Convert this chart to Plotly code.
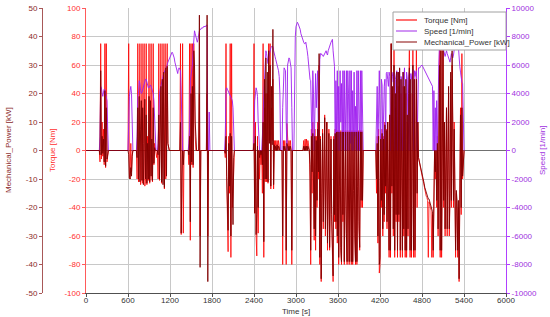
import plotly.graph_objects as go

# ---------------- data (10 s sampling inside each driving segment) ----------------
seg_start_s = [0, 190, 600, 720, 1170, 1460, 1980, 2390, 2800, 2970, 3210, 4140]

torque_nm = [
    [0],
    [0, -8, 75, -6, 20, -4, 15, -10, 75, -12, 75, -8, 0, 0],
    [0, 75, -19, -20, 5, -15, -3, 0],
    [0, -20, 75, -22, 10, 75, -24, -20, 75, -23, 5, 75, -25, -22, 75, -24, 10, -21, 75, -23,
     -15, 75, -20, -22, 75, -10, 5, 0, 0, -5, 0, -20, 75, -21, 20, 75, -23, -10, 75, -25,
     -27, 75, -20, 30, 75],
    [5, 0, 0, 0, 0, 0, 0, 0, 0, 0, 0, 0, 0, 0, 0, 0, 0, 0, 75, -59, -30, 75, -58, 0],
    [0, -10, 75, -63, 75, -10, 75, -12, 75, 30, 10, 0, 0, 0, 0, 0, 40, -60, 0, 0,
     0, 0, 0, 0, 0, 0, 0, 40, -60, 0, 0, 0],
    [0, -5, 75, -18, -56, -71, 10, -30, 75, -75, 75, -40, -30, 0, 0],
    [0, 75, -44, 20, -60, -74, 10, -58, 0, -20, 0, -10, 0, -30, 75, -75, 30, -22, 40, -22,
     40, -23, 75, 7, 75, -27, 30, 7, 50, -27, 7, 0, 7, 0, 7, 0, 7, 0, 0, 0],
    [0, -80, 7, 0, 7, 0, -80, 19, 7, 0, 7, 0, 7, 0, -80, 0],
    [0, 0, 0, 0, 0, 0, 0, 0, 0, 0, 0, 0, 0, 0, 7, 0, 8, 0, 8, 0, 7, 0, 0, -20],
    [-80, 15, -30, 20, -50, -63, 15, -70, 10, -40,
     20, -20, 60, -80, 10, -92, -25, 15, -55, -20,
     25, -60, -30, 20, -70, -35, 15, -70, -40, 10,
     -50, -85, -92, 10, -50, 15, -55, 14, -65, 14,
     -80, -30, 14, -70, -80, 14, -50, 14, -80, -30,
     14, -60, -80, 14, -65, -80, 14, -40, -80, 14,
     -80, -30, 14, -60, -80, 14, -80, -30, 14, -55,
     -70, 14, -40, 14, -40, 0],
    [0, -30, 10, -65, 15, -86, -80, 10, -40, 15,
     -60, 10, -50, 20, -30, 15, -55, 20, -40, -75,
     25, -75, 75, -30, 40, -60, 75, -75, 30, -50,
     50, -75, 45, -50, 50, -75, 40, -40, -75, 45,
     -60, 35, -75, 40, -75, 20, -60, 30, 75, -75,
     40, -75, 30, 75, -75, 40, -75, 30, 75, -40,
     20, -5, -8, -10, -12, -15, -18, -20, -22, -25,
     -28, -30, -32, -33, -35, -75, -36, -38, -40, -42,
     -75, -45, -75, -30, 0, -20, 0, -40, 10, -60,
     30, 75, -75, 75, -75, 50, 75, -40, 20, -60,
     -20, 30, -60, -25, 40, -60, -30, 50, -40, 60,
     -30, -40, 20, -35, -75, -30, -40, -75, -40, -92,
     -20, 30, -45, 68, -20, 0, 0],
]

speed_rpm = [
    [0],
    [0, 1000, 4500, 4400, 4000, 3800, 4100, 4300, 4200, 4000, 3800, 3500, 1500, 0],
    [0, 3000, 3800, 4200, 4500, 4000, 2500, 0],
    [0, 1000, 3800, 4000, 4900, 4700, 4200, 4000, 4100, 4300, 4500, 4600, 4800, 5000, 5000,
     4800, 4500, 4400, 4400, 4500, 4600, 4500, 4300, 4200, 4000, 3500, 2000, 0, 0, 0,
     0, 500, 3800, 4000, 4300, 4600, 4800, 5000, 5200, 5400, 5500, 5700, 5800, 5900, 6000],
    [6200, 6300, 6400, 6500, 6600, 6800, 6900, 6800, 6700, 6500, 6200, 6000, 5700, 5500,
     5400, 5700, 5800, 5700, 5600, 4000, 1600, 0, 0, 0],
    [0, 500, 1600, 4900, 5200, 5500, 6000, 7000, 7800, 8400, 8200, 7900, 7800, 7600, 7800,
     8200, 8400, 8500, 8500, 8600, 8600, 8600, 8700, 8700, 8700, 8700, 8800, 8800, 0, 0,
     2700, 0],
    [0, 1000, 4300, 4400, 4300, 4200, 4000, 3900, 3800, 3800, 3600, 3500, 3000, 2000, 0],
    [0, 1000, 3500, 4000, 4400, 4200, 3800, 2000, 0, 0, 0, 0, 0, 1000, 3100, 3800, 5000,
     6200, 7000, 6800, 6400, 6100, 6500, 6800, 7000, 7200, 7300, 7300, 7300, 7000, 6600,
     6600, 6400, 6200, 6000, 5900, 5600, 5200, 4000, 0],
    [0, 3000, 5600, 5800, 5700, 5600, 2000, 0, 6000, 6500, 6500, 6400, 6200, 5800, 3000, 0],
    [0, 6000, 8000, 8700, 8900, 9000, 8900, 8800, 8700, 8500, 8200, 8000, 7800, 7700, 7600,
     7500, 7500, 7600, 7400, 7000, 6600, 6000, 5600, 5000],
    [4900, 2000, 0, 5600, 4000, 0, 4500, 5400, 3000, 5600,
     5600, 1000, 6100, 6400, 6800, 6800, 6700, 6700, 6600, 6700,
     6700, 6900, 7000, 6800, 6700, 7000, 7200, 7400, 7500, 7600,
     7700, 7800, 7000, 6400, 5900, 0, 4900, 1000, 5600, 0,
     4500, 0, 5600, 2000, 4700, 0, 5600, 1000, 5600, 0,
     4200, 5600, 0, 5600, 4000, 0, 5600, 500, 5600, 0,
     4200, 0, 5500, 1000, 3100, 0, 5600, 0, 5600, 3500,
     0, 5600, 0, 5600, 1000, 0],
    [0, 4200, 4500, 0, 5000, 5600, 2000, 0, 5000, 4600,
     0, 4200, 4500, 5000, 0, 5400, 5500, 5000, 4500, 5500,
     5200, 0, 5000, 5500, 5200, 4800, 5500, 0, 5000, 5200,
     5600, 0, 5500, 5000, 5700, 0, 5200, 5000, 0, 5500,
     5000, 5800, 0, 5200, 5500, 5000, 0, 5200, 5500, 0,
     5400, 5000, 5500, 5700, 0, 5600, 5200, 5500, 5600, 0,
     5700, 5800, 5800, 5800, 5900, 6000, 6000, 5900, 5800, 5700,
     5600, 5500, 5400, 5300, 5200, 5100, 5000, 4900, 4800, 4700,
     4600, 4500, 0, 4200, 0, 3000, 0, 3500, 0, 4500,
     6000, 7500, 8000, 8200, 8000, 7800, 7200, 7000, 6800, 6600,
     6800, 7000, 6800, 6600, 6400, 6200, 6200, 6500, 6800, 6600,
     6500, 6700, 7000, 7200, 7800, 8200, 8400, 8000, 7000, 6200,
     5900, 5500, 5000, 4800, 4700, 0, 0],
]

power_kw = [
    [0],
    [0, -1.5, 28, -1.5, 5, -1, 4, -4, 21, -5.5, 15, -3, 0, 0],
    [0, -1.5, -9.5, -10, -6, -9, -2, 0],
    [0, -2.5, 15, -10, 19, -11, 7.5, 17.5, -10.5, 15, -12, 6, 18, -10, 12.5, -11.5, 2.5,
     -10, 19, -11, 17.5, -9, 4, -10.5, 15, -4.5, 1, 0, 0, 0, 0, -1.5, 12.5, -10, 15,
     22.5, -11, 25, -12, 27.5, -13, 25, 29, -9, 29.5],
    [2.5, 0, 0, 0, 0, 0, 0, 0, 0, 0, 0, 0, 0, 0, 0, 0, 0, 0, 10, -29, -10, 0, -5, 0],
    [0, -1.5, 5, -25, 20, -4, 22.5, -5, 35, 30, 10, 0, 0, 0, 0, 0, 47.5, -41, 0, 0,
     0, 0, 0, 0, 0, 0, 0, 47.5, -46, 0, 0, 0],
    [0, -1, 5, -9, -22.5, -28, 2.5, -12.5, 6, -30, 5, -17.5, -26, -2.5, 0],
    [0, 2.5, -22, 5, -29.5, -22.5, 1.5, -20, 0, -2.5, 0, -1.5, 0, -5, 10, -32, 25, -10,
     32.5, -10, 27.5, -11, 35, 2.5, 30, -12.5, 22.5, 2, 42.5, -12, 2, 0, 1.5, 0, 2, 0,
     1.5, 0, 0, 0],
    [0, -30, 1.5, 0, 1.5, 0, -35, 2.5, 1.5, 0, 1.5, 0, 1.5, 0, -35, 0],
    [0, 0, 0, 0, 0, 0, 0, 0, 0, 0, 0, 0, 0, 0, 1.5, 0, 1.5, 0, 1.5, 0, 1.5, 0, 0, -5],
    [-35, 5, -7.5, 6, -22.5, -27.5, 5, -30, 3.5, -17.5,
     7.5, -7.5, 34, -37.5, 4, -45, -15, 6, -25, -12.5,
     11.5, -27.5, -14, 10, -32.5, -15, 6, -34, -17.5, 4,
     -22.5, -40, -44, 4, -22.5, 6, -25, 6.5, -30, 6.5,
     -37.5, -12.5, 6.5, -34, -39, 6.5, -22.5, 6.5, -39, -14,
     6.5, -29, -39, 6.5, -30, -39, 6.5, -17.5, -39, 6.5,
     -39, -14, 6.5, -29, -39, 6.5, -39, -12.5, 6.5, -25,
     -34, 6.5, -17.5, 6.5, -17.5, 0],
    [0, -10, 2.5, -30, 5, -40, -37.5, 4, -17.5, 6,
     -27.5, 4, -22.5, 9, -12.5, 7, -25, 10, -17.5, -35,
     12.5, -35, 37.5, -12.5, 22.5, -27.5, 30, -35, 20, -22.5,
     27.5, -35, 27.5, -22.5, 29, -35, 25, -17.5, -35, 27.5,
     -27.5, 22.5, -35, 25, -35, 12.5, -27.5, 20, 29, -35,
     25, -35, 20, 30, -35, 25, -35, 15, 25, -15,
     10, -2.5, -3.5, -4.5, -5.5, -6.5, -8, -9, -10, -11.5,
     -13, -14, -15, -15.5, -16.5, -17, -17, -18, -19, -20,
     -21, -21.5, -35, -14, 0, -7.5, 0, -17.5, 2.5, -27.5,
     15, 30, -35, 35, -35, 32.5, 35, -17.5, 10, -27.5,
     -9, 15, -27.5, -11, 22.5, -27.5, -14, 27.5, -17.5, 35,
     -14, -17.5, 7.5, -16, -35, -14, -17.5, -35, -17.5, -45,
     -9, 12.5, -20, 15, -9, 0, 0],
]

sample_step_s = 10

x_ticks = [0, 600, 1200, 1800, 2400, 3000, 3600, 4200, 4800, 5400, 6000]
torque_ticks = [-100, -80, -60, -40, -20, 0, 20, 40, 60, 80, 100]
speed_ticks = [-10000, -8000, -6000, -4000, -2000, 0, 2000, 4000, 6000, 8000, 10000]
power_ticks = [-50, -40, -30, -20, -10, 0, 10, 20, 30, 40, 50]

series_names = ["Torque [Nm]", "Speed [1/min]", "Mechanical_Power [kW]"]
series_colors = ["rgba(255,0,0,0.8)", "rgba(160,32,240,0.9)", "rgba(128,0,0,0.9)"]

# ---------------- flatten segments ----------------
time_s, tq, sp, pw = [], [], [], []
for start, a, b, c in zip(seg_start_s, torque_nm, speed_rpm, power_kw):
    assert len(a) == len(b) == len(c), (start, len(a), len(b), len(c))
    for i in range(len(a)):
        time_s.append(start + i * sample_step_s)
        tq.append(a[i]); sp.append(b[i]); pw.append(c[i])

# ---------------- geometry helpers (pixel -> paper) ----------------
W, H = 550, 317
ML, MR, MT, MB = 0, 44, 8, 24
PW = W - ML - MR           # paper width 506
PH = H - MT - MB           # paper height 285
def px(x): return (x - ML) / PW
def py(y): return (H - MB - y) / PH

FONT = "Liberation Sans"

fig = go.Figure()
fig.add_trace(go.Scatter(x=time_s, y=tq, mode="lines", name=series_names[0],
                         line=dict(color=series_colors[0], width=1), yaxis="y"))
fig.add_trace(go.Scatter(x=time_s, y=sp, mode="lines", name=series_names[1],
                         line=dict(color=series_colors[1], width=1), yaxis="y2"))
fig.add_trace(go.Scatter(x=time_s, y=pw, mode="lines", name=series_names[2],
                         line=dict(color=series_colors[2], width=1), yaxis="y3"))

def lab(v):
    return str(v)

fig.update_layout(
    width=W, height=H,
    margin=dict(l=ML, r=MR, t=MT, b=MB, autoexpand=False),
    paper_bgcolor="white", plot_bgcolor="white",
    showlegend=False,
    font=dict(family=FONT, size=8, color="#333333"),
    xaxis=dict(domain=[px(86), 1], range=[0, 6000],
               tickvals=x_ticks, ticktext=[lab(v) for v in x_ticks],
               showgrid=True, gridcolor="#c8c8c8", gridwidth=1,
               showline=True, linecolor="#505050", linewidth=1,
               ticks="outside", ticklen=3, tickcolor="#505050",
               ticklabelstandoff=-4,
               tickfont=dict(size=8, color="#333333"), zeroline=False),
    yaxis=dict(range=[-100, 100], tickvals=torque_ticks,
               ticktext=[lab(v) for v in torque_ticks],
               showgrid=True, gridcolor="#c8c8c8", gridwidth=1,
               zeroline=True, zerolinecolor="#707070", zerolinewidth=1,
               showline=True, linecolor="#ff5a5a", linewidth=1,
               ticks="outside", ticklen=3, tickcolor="#ff5a5a",
               tickfont=dict(size=8, color="#ff3030")),
    yaxis2=dict(range=[-10000, 10000], overlaying="y", side="right", anchor="x",
                tickvals=speed_ticks, ticktext=[lab(v) for v in speed_ticks],
                showgrid=False, zeroline=False,
                showline=True, linecolor="#b040ff", linewidth=1,
                ticks="outside", ticklen=3, tickcolor="#b040ff",
                tickfont=dict(size=8, color="#a030e0")),
    yaxis3=dict(range=[-50, 50], overlaying="y", side="left", anchor="free",
                position=px(42),
                tickvals=power_ticks, ticktext=[lab(v) for v in power_ticks],
                showgrid=False, zeroline=False,
                showline=True, linecolor="#a85858", linewidth=1,
                ticks="outside", ticklen=3, tickcolor="#a85858",
                tickfont=dict(size=8, color="#8b2a2a")),
    hovermode=False,
)

# axis titles
ann = [
    dict(text="Mechanical_Power [kW]", x=px(8), y=py(150), textangle=-90,
         font=dict(size=8, color="#8b2a2a")),
    dict(text="Torque [Nm]", x=px(52), y=py(150), textangle=-90,
         font=dict(size=8, color="#ff3030")),
    dict(text="Speed [1/min]", x=px(542), y=py(151), textangle=-90,
         font=dict(size=8, color="#a030e0")),
    dict(text="Time [s]", x=px(296), y=py(311),
         font=dict(size=8, color="#333333")),
]
for a in ann:
    fig.add_annotation(xref="paper", yref="paper", showarrow=False,
                       xanchor="center", yanchor="middle", **a)

# legend box
fig.add_shape(type="rect", xref="paper", yref="paper",
              x0=px(393), x1=px(506), y0=py(50), y1=py(12),
              fillcolor="white", line=dict(color="#a0a0a0", width=1), layer="above")
legend_rows_px = [20, 31, 42]
legend_line_colors = ["#ff4040", "#c070f0", "#b05858"]
for name, col, ry in zip(series_names, legend_line_colors, legend_rows_px):
    fig.add_shape(type="line", xref="paper", yref="paper",
                  x0=px(396), x1=px(417), y0=py(ry), y1=py(ry),
                  line=dict(color=col, width=1.5), layer="above")
    fig.add_annotation(xref="paper", yref="paper", showarrow=False,
                       x=px(422), y=py(ry), xanchor="left", yanchor="middle",
                       text=name, font=dict(size=8, color="#333333"))

fig.write_html("out.html", config={"displayModeBar": False},
               post_script="document.body.style.margin='0';document.body.style.overflow='hidden';")
